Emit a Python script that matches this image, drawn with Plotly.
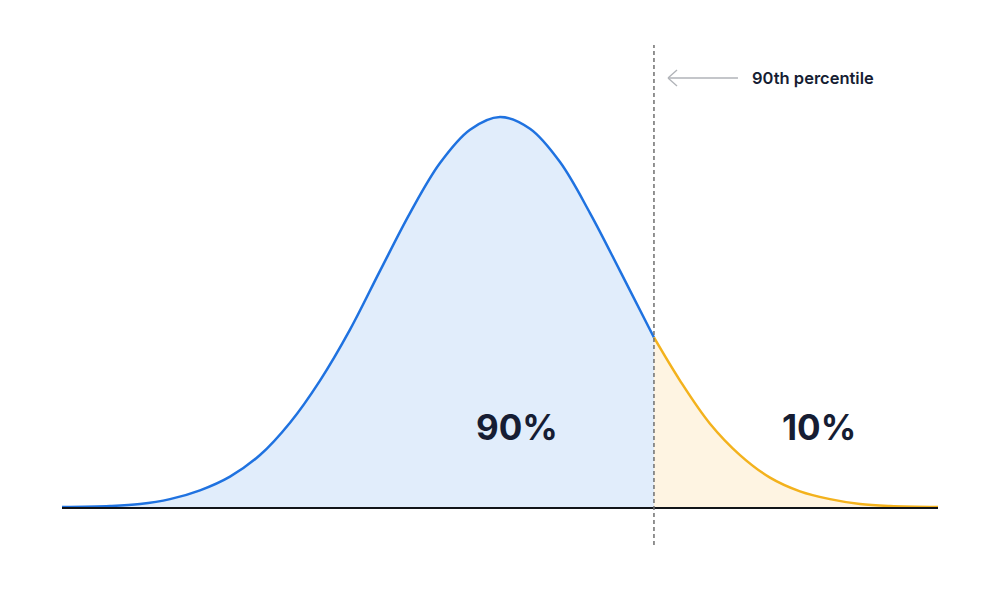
import plotly.graph_objects as go

# bell curve (x in sd units, y as density)
left_x = [-3.65, -3.25, -3.0, -2.75, -2.5, -2.25, -2.0, -1.75, -1.5, -1.25, -1.0,
          -0.75, -0.5, -0.25, 0.0, 0.25, 0.5, 0.75, 1.0, 1.283]
left_y = [0.001, 0.002, 0.004, 0.009, 0.018, 0.032, 0.054, 0.087, 0.130, 0.182, 0.242,
          0.301, 0.352, 0.386, 0.399, 0.387, 0.353, 0.301, 0.242, 0.174]
right_x = [1.283, 1.5, 1.75, 2.0, 2.25, 2.5, 2.75, 3.0, 3.25, 3.65]
right_y = [0.174, 0.130, 0.086, 0.054, 0.031, 0.017, 0.009, 0.004, 0.002, 0.001]

cutoff = 1.283
labels = ["90%", "10%"]
label_x = [0.14, 2.66]
label_y = 0.083

fig = go.Figure()
fig.add_trace(go.Scatter(x=left_x, y=left_y, mode="lines", line=dict(color="#1f72e0", width=2.5, shape="spline"),
                         fill="tozeroy", fillcolor="#e1edfb", hoverinfo="skip"))
fig.add_trace(go.Scatter(x=right_x, y=right_y, mode="lines", line=dict(color="#f3b21d", width=2.5, shape="spline"),
                         fill="tozeroy", fillcolor="#fef4e2", hoverinfo="skip"))

# baseline
fig.add_shape(type="line", x0=-3.65, x1=3.65, y0=0, y1=0, line=dict(color="#111418", width=2))
# percentile marker
fig.add_shape(type="line", x0=cutoff, x1=cutoff, y0=-0.0378, y1=0.4724,
              line=dict(color="#6f6f6f", width=1.5, dash="4px,3px"))
# arrow pointing at the marker
ay = 0.4388
fig.add_shape(type="line", x0=1.4, x1=1.983, y0=ay, y1=ay, line=dict(color="#b0b3b8", width=1.3))
fig.add_shape(type="line", x0=1.4, x1=1.475, y0=ay, y1=ay + 0.0082, line=dict(color="#b0b3b8", width=1.3))
fig.add_shape(type="line", x0=1.4, x1=1.475, y0=ay, y1=ay - 0.0082, line=dict(color="#b0b3b8", width=1.3))

fig.add_annotation(x=2.085, y=ay, text="90th percentile", showarrow=False, xanchor="left",
                   font=dict(family="Inter", size=16.5, color="#161d33", weight=600))
for t, lx in zip(labels, label_x):
    fig.add_annotation(x=lx, y=label_y, text=t, showarrow=False,
                       font=dict(family="Inter", size=35, color="#161d33", weight="bold"))

# page body adds 8px, so margins are shifted by that
fig.update_layout(
    width=1000, height=591,
    margin=dict(l=54, r=70, t=32, b=39),
    paper_bgcolor="white", plot_bgcolor="white",
    showlegend=False,
    xaxis=dict(range=[-3.65, 3.65], visible=False, fixedrange=True),
    yaxis=dict(range=[-0.0531, 0.4776], visible=False, fixedrange=True),
)

fig.write_html("out.html")
